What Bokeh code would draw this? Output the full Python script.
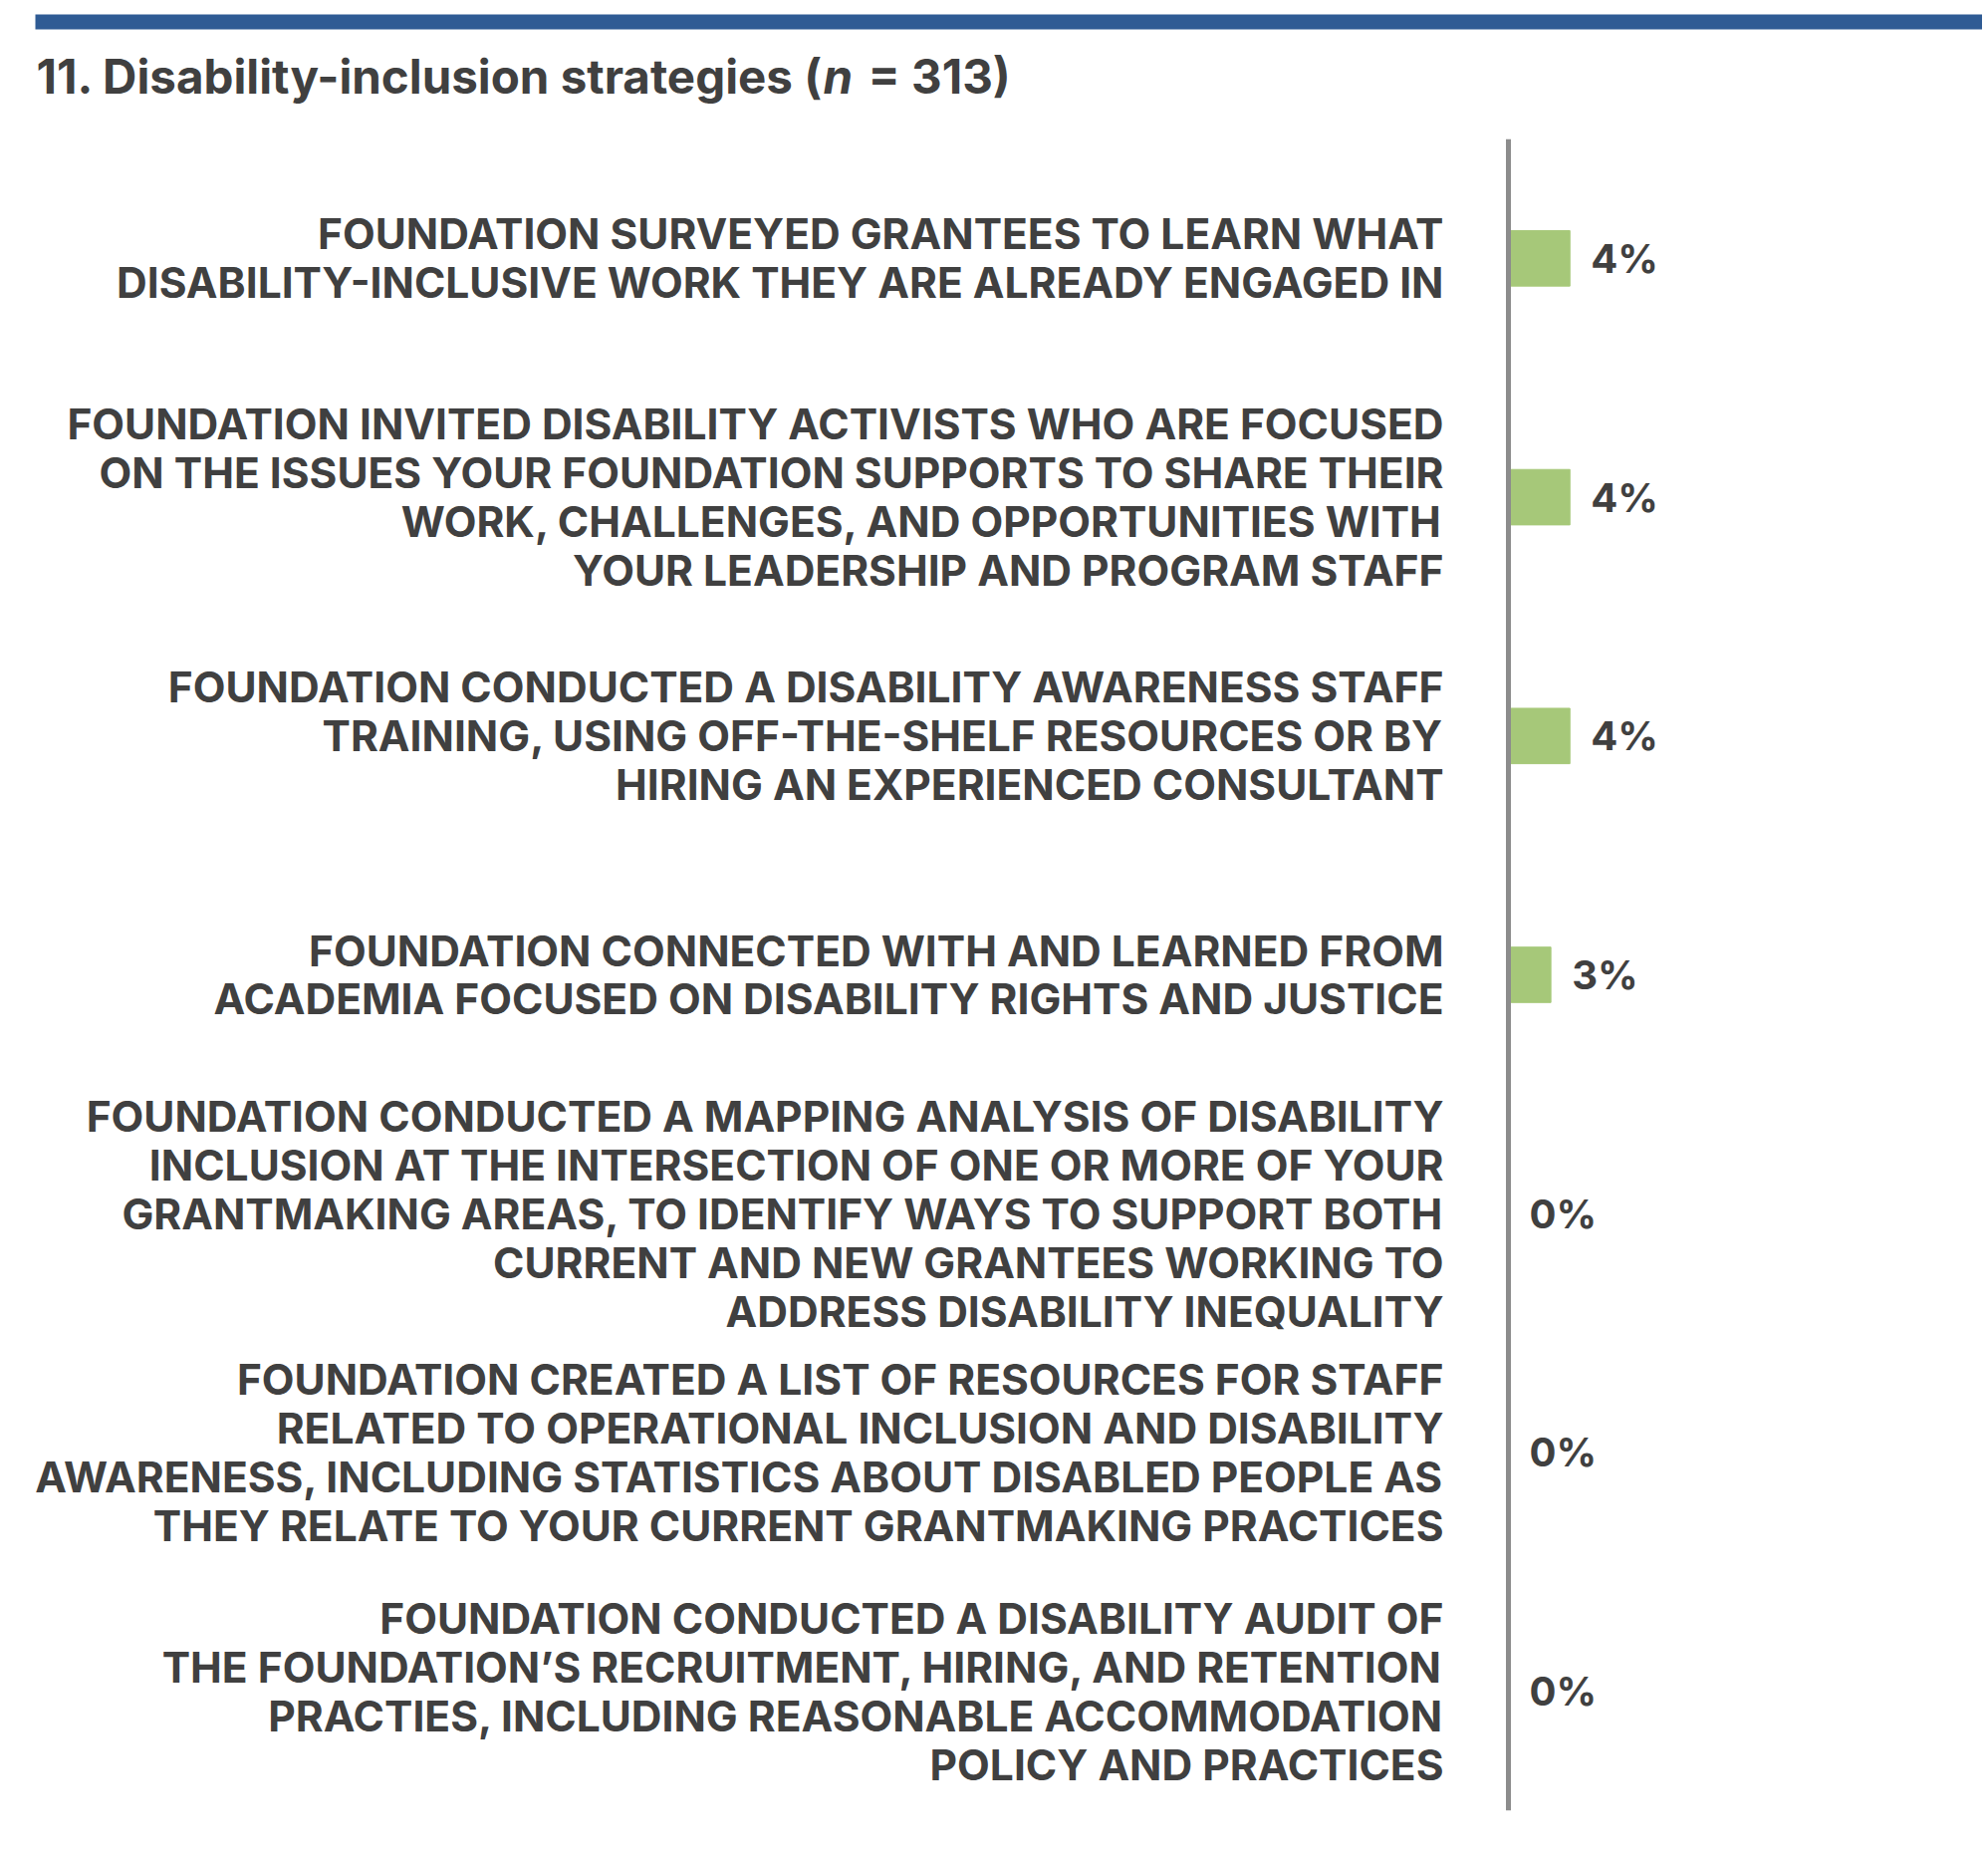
from bokeh.core.properties import value
from bokeh.embed import file_html
from bokeh.layouts import column
from bokeh.models import BoxAnnotation, ColumnDataSource, FactorRange, Label, Range1d, Span
from bokeh.plotting import figure
from bokeh.resources import INLINE

# Survey answers, top to bottom as in the report
strategies = [
    "FOUNDATION SURVEYED GRANTEES TO LEARN WHAT\n"
    "DISABILITY-INCLUSIVE WORK THEY ARE ALREADY ENGAGED IN",
    "FOUNDATION INVITED DISABILITY ACTIVISTS WHO ARE FOCUSED\n"
    "ON THE ISSUES YOUR FOUNDATION SUPPORTS TO SHARE THEIR\n"
    "WORK, CHALLENGES, AND OPPORTUNITIES WITH\n"
    "YOUR LEADERSHIP AND PROGRAM STAFF",
    "FOUNDATION CONDUCTED A DISABILITY AWARENESS STAFF\n"
    "TRAINING, USING OFF-THE-SHELF RESOURCES OR BY\n"
    "HIRING AN EXPERIENCED CONSULTANT",
    "FOUNDATION CONNECTED WITH AND LEARNED FROM\n"
    "ACADEMIA FOCUSED ON DISABILITY RIGHTS AND JUSTICE",
    "FOUNDATION CONDUCTED A MAPPING ANALYSIS OF DISABILITY\n"
    "INCLUSION AT THE INTERSECTION OF ONE OR MORE OF YOUR\n"
    "GRANTMAKING AREAS, TO IDENTIFY WAYS TO SUPPORT BOTH\n"
    "CURRENT AND NEW GRANTEES WORKING TO\n"
    "ADDRESS DISABILITY INEQUALITY",
    "FOUNDATION CREATED A LIST OF RESOURCES FOR STAFF\n"
    "RELATED TO OPERATIONAL INCLUSION AND DISABILITY\n"
    "AWARENESS, INCLUDING STATISTICS ABOUT DISABLED PEOPLE AS\n"
    "THEY RELATE TO YOUR CURRENT GRANTMAKING PRACTICES",
    "FOUNDATION CONDUCTED A DISABILITY AUDIT OF\n"
    "THE FOUNDATION\u2019S RECRUITMENT, HIRING, AND RETENTION\n"
    "PRACTIES, INCLUDING REASONABLE ACCOMMODATION\n"
    "POLICY AND PRACTICES",
]
# bar lengths (labels are rounded)
shares = [4.2, 4.2, 4.2, 2.9, 0, 0, 0]

title_main = "11. Disability-inclusion strategies ("
title_n = "n"
title_tail = "= 313)"

TEXT = "#404040"
GREEN = "#a6c879"
BLUE = "#2f5b94"
AXIS_GREY = "#8c8c8c"
FONT = "Inter"

W = 1990
PX_PER_PCT = 14.7   # bar scale
AXIS_X = 1514       # where the zero line sits

# ---- header: blue rule + title ----
head = figure(width=W, height=139, x_range=Range1d(0, W), y_range=Range1d(139, 0),
              min_border=0, output_backend="svg", toolbar_location=None)
head.axis.visible = False
head.grid.visible = False
head.outline_line_color = None
head.add_layout(BoxAnnotation(left=35, right=W, top=14, bottom=29,
                              fill_color=BLUE, fill_alpha=1.0, line_alpha=0))
for txt, x, style in [(title_main, 36, "bold"),
                      (title_n, 826, "bold italic"),
                      (title_tail, 871, "bold")]:
    head.add_layout(Label(x=x, y=76, text=txt, text_font=FONT,
                          text_font_size="47.5px", text_font_style=style,
                          text_color=TEXT, text_baseline="alphabetic"))

# ---- bar chart ----
src = ColumnDataSource(dict(
    strategy=strategies,
    share=shares,
    label=[f"{round(v)}%" for v in shares],
    zero=[0] * len(shares),
))

p = figure(width=W, height=1700,
           y_range=FactorRange(factors=strategies[::-1]),
           x_range=Range1d(-AXIS_X / PX_PER_PCT, (W - AXIS_X) / PX_PER_PCT),
           min_border=0, min_border_bottom=22,
           output_backend="svg", toolbar_location=None)

p.hbar(y="strategy", right="share", height=0.232, color=GREEN, source=src)
p.text(x="share", y="strategy", text="label", source=src,
       x_offset=21, text_baseline="middle", text_align="left",
       text_font=value(FONT), text_font_size="40px", text_font_style="bold",
       text_color=TEXT)

# category texts, right aligned against the zero line
p.text(x="zero", y="strategy", text="strategy", source=src,
       x_offset=-65, text_baseline="middle", text_align="right",
       text_font=value(FONT), text_font_size="42.5px", text_font_style="bold",
       text_color=TEXT, text_line_height=0.96)

p.add_layout(Span(location=0, dimension="height", line_color=AXIS_GREY, line_width=5))

p.axis.visible = False
p.grid.visible = False
p.outline_line_color = None

layout = column(head, p, spacing=0)

open("out.html", "w").write(file_html(layout, INLINE))
